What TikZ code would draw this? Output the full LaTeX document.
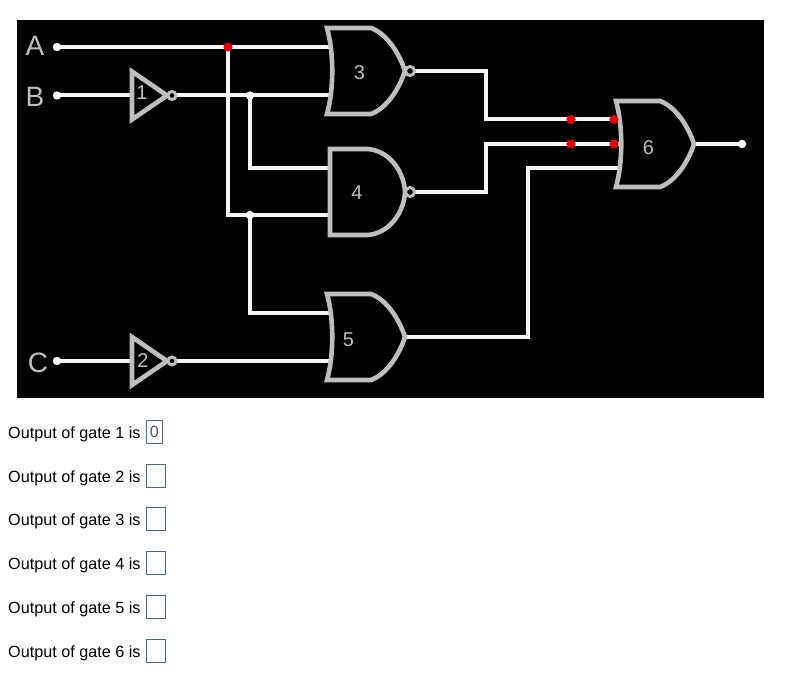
\documentclass[tikz,border=0pt]{standalone}
\usepackage{fontspec}
\setmainfont{Liberation Sans}
\usetikzlibrary{calc,positioning}
\definecolor{mygray}{RGB}{190, 190, 190}
\definecolor{mywire}{RGB}{245, 245, 245}
\definecolor{myblue}{RGB}{70, 105, 145}
\tikzset{
  wire/.style = {draw = mywire, line width = 4pt, line join = miter},
  gateline/.style = {draw = mygray, line width = 4.6pt, fill = black, line join = miter},
  bubble/.style = {draw = mygray, line width = 3pt, fill = black},
  inlabel/.style = {text = mygray, font = \fontsize{28}{28}\selectfont},
  gatelabel/.style = {text = mygray, font = \fontsize{20}{20}\selectfont},
  rowtext/.style = {font = \fontsize{16.2}{18}\selectfont, inner sep = 0pt, anchor = west},
  answer/.style = {draw = myblue, line width = 0.8pt, minimum height = 23pt, inner sep = 0pt, right = 5.5pt of #1, yshift = 2.5pt},
  orgate/.pic = {
    \draw[gateline] (0,-43) -- (44,-43) .. controls (60,-37) and (72,-18) .. (78,0)
      .. controls (72,18) and (60,37) .. (44,43) -- (0,43)
      .. controls (7,18) and (7,-18) .. cycle;
  },
  andgate/.pic = {
    \draw[gateline] (0,-43) -- (38,-43) .. controls (60,-41) and (74,-20) .. (75,0)
      .. controls (74,20) and (60,41) .. (38,43) -- (0,43) -- cycle;
  },
  notgate/.pic = {
    \draw[gateline] (0,-24) -- (35,0) -- (0,24) -- cycle;
  }
}
\begin{document}
\begin{tikzpicture}[x = 1pt, y = -1pt]
\useasboundingbox (0,0) rectangle (795,692);
\fill[black] (17,20) rectangle (764,398);
% points on the wires
\coordinate (a) at (57,47);
\coordinate (b) at (57,95.5);
\coordinate (c) at (57,361);
\coordinate (ared) at (228,47);
\coordinate (bjoin) at (250,95.5);
\coordinate (ajoin) at (250,215);
\coordinate (n1) at (172,95.5);
\coordinate (n2) at (172,361);
\coordinate (n3) at (410,71);
\coordinate (n4) at (410,192);
\coordinate (g5out) at (405,337);
\coordinate (g6out) at (693,144);
\coordinate (out) at (742,144);
\coordinate (r1) at (571,119.5);
\coordinate (r2) at (614,119.5);
\coordinate (r3) at (571,144);
\coordinate (r4) at (614,144);
% wires
\draw[wire] (a) -- (330,47);
\draw[wire] (ared) |- (330,215);
\draw[wire] (b) -- (135,95.5);
\draw[wire] (n1) -- (330,95.5);
\draw[wire] (bjoin) |- (330,168.5);
\draw[wire] (ajoin) |- (330,313);
\draw[wire] (c) -- (135,361);
\draw[wire] (n2) -- (330,361);
\draw[wire] (n3) -- (486,71) -- (486,119.5) -- (r1) -- (r2) -- (622,119.5);
\draw[wire] (n4) -- (486,192) -- (486,144) -- (r3) -- (r4) -- (622,144);
\draw[wire] (g5out) -- (528,337) -- (528,168) -- (622,168);
\draw[wire] (g6out) -- (out);
% gates
\pic at (132,95.5) {notgate};
\pic at (132,361) {notgate};
\pic at (327,71) {orgate};
\pic at (330,192) {andgate};
\pic at (327,337) {orgate};
\pic at (616,144) {orgate};
\draw[bubble] (n1) circle [radius = 4];
\draw[bubble] (n2) circle [radius = 4];
\draw[bubble] (n3) circle [radius = 4.5];
\draw[bubble] (n4) circle [radius = 4.5];
% dots
\foreach \p in {a,b,c,bjoin,ajoin,out}
  \fill[white] (\p) circle [radius = 4.2];
\foreach \p in {ared,r1,r2,r3,r4}
  \fill[red!90!black] (\p) circle [radius = 4.6];
% labels
\node[inlabel] (la) at (35,46) {A};
\node[inlabel] (lb) at (35,97) {B};
\node[inlabel] (lc) at (38,363) {C};
\node[gatelabel] (g1) at (142,93) {1};
\node[gatelabel] (g2) at (143,361) {2};
\node[gatelabel] (g3) at (359.5,73) {3};
\node[gatelabel] (g4) at (357,192.5) {4};
\node[gatelabel] (g5) at (348.5,340) {5};
\node[gatelabel] (g6) at (648.5,147.5) {6};
% answers
\node[rowtext] (row1) at (8,434) {Output of gate 1 is};
\node[answer = row1, minimum width = 15.5pt, text = black!65, font = \fontsize{16.2}{18}\selectfont] (box1) {0};
\foreach \g/\y in {2/478,3/521.5,4/565.5,5/609,6/653} {
  \node[rowtext] (row\g) at (8,\y) {Output of gate \g{} is};
  \node[answer = row\g, minimum width = 19pt] (box\g) {};
}
\end{tikzpicture}
\end{document}
